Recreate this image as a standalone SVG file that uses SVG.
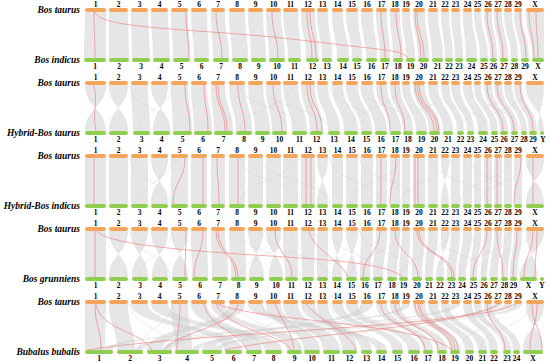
<svg xmlns="http://www.w3.org/2000/svg" width="550" height="363" viewBox="0 0 550 363">
<style>
.o{fill:#f5a45c}
.g{fill:#8fce4e}
.rb path{fill:#cdcdcd;fill-opacity:.5}
.bg path{fill:none;stroke:#cfcfcf;stroke-opacity:.55;stroke-width:.7}
.rl path{fill:none;stroke:#ee7070;stroke-opacity:.75;stroke-width:.75}
.sp{font-family:"Liberation Serif",serif;font-weight:bold;font-style:italic;font-size:9.5px;text-anchor:end;fill:#000}
.n{font-family:"Liberation Serif",serif;font-weight:bold;font-size:7.5px;text-anchor:middle;fill:#000}
</style>
<defs>
<g id="noise" class="bg">
<path d="M130 12C130 35 170 35 170 58"/>
<path d="M172 12C172 35 140 35 140 58"/>
<path d="M240 12C240 35 300 35 300 58"/>
<path d="M292 12C292 35 240 35 240 58"/>
<path d="M262 12C262 35 330 35 330 58"/>
<path d="M330 12C330 35 380 35 380 58"/>
<path d="M400 12C400 35 350 35 350 58"/>
<path d="M360 12C360 35 420 35 420 58"/>
<path d="M450 12C450 35 400 35 400 58"/>
<path d="M470 12C470 35 520 35 520 58"/>
<path d="M510 12C510 35 460 35 460 58"/>
<path d="M430 12C430 35 490 35 490 58"/>
<path d="M530 12C530 35 480 35 480 58"/>
</g>
</defs>
<rect width="550" height="363" fill="#fff"/>
<g id="connectors">
<g id="row1-links" transform="translate(0,0)">
<g class="rb">
<path d="M85 12C85 35 84 35 84 58H106C106 35 106 35 106 12Z"/>
<path d="M109 12C109 35 109 35 109 58H129C129 35 128 35 128 12Z"/>
<path d="M131 12C131 35 132 35 132 58H150C150 35 148 35 148 12Z"/>
<path d="M151 12C151 35 153 35 153 58H170C170 35 168 35 168 12Z"/>
<path d="M171 12C171 35 173 35 173 58H190C190 35 188 35 188 12Z"/>
<path d="M191 12C191 35 194 35 194 58H209C209 35 207 35 207 12Z"/>
<path d="M211 12C211 35 213 35 213 58H229C229 35 225 35 225 12Z"/>
<path d="M229 12C229 35 232 35 232 58H248C248 35 245 35 245 12Z"/>
<path d="M248 12C248 35 251 35 251 58H266C266 35 263 35 263 12Z"/>
<path d="M266 12C266 35 269 35 269 58H285C285 35 281 35 281 12Z"/>
<path d="M283 12C283 35 288 35 288 58H301C301 35 298 35 298 12Z"/>
<path d="M301 12C301 35 306 35 306 58H319C319 35 315 35 315 12Z"/>
<path d="M317 12C317 35 322 35 322 58H332C332 35 328 35 328 12Z"/>
<path d="M332 12C332 35 337 35 337 58H349C349 35 343 35 343 12Z"/>
<path d="M346 12C346 35 352 35 352 58H362C362 35 358 35 358 12Z"/>
<path d="M361 12C361 35 366 35 366 58H377C377 35 373 35 373 12Z"/>
<path d="M376 12C376 35 380 35 380 58H390C390 35 387 35 387 12Z"/>
<path d="M390 12C390 35 393 35 393 58H403C403 35 400 35 400 12Z"/>
<path d="M402 12C402 35 406 35 406 58H415C415 35 410 35 410 12Z"/>
<path d="M413 12C413 35 418 35 418 58H429C429 35 425 35 425 12Z"/>
<path d="M428 12C428 35 432 35 432 58H443C443 35 438 35 438 12Z"/>
<path d="M441 12C441 35 445 35 445 58H453C453 35 449 35 449 12Z"/>
<path d="M451 12C451 35 455 35 455 58H463C463 35 460 35 460 12Z"/>
<path d="M463 12C463 35 466 35 466 58H477C477 35 472 35 472 12Z"/>
<path d="M474 12C474 35 480 35 480 58H488C488 35 481 35 481 12Z"/>
<path d="M484 12C484 35 490 35 490 58H497C497 35 492 35 492 12Z"/>
<path d="M494 12C494 35 500 35 500 58H508C508 35 502 35 502 12Z"/>
<path d="M504 12C504 35 511 35 511 58H518C518 35 512 35 512 12Z"/>
<path d="M514 12C514 35 521 35 521 58H529C529 35 522 35 522 12Z"/>
<path d="M526 12C526 35 532 35 532 58H544C544 35 544 35 544 12Z"/>
</g>
<g class="rl">
<path d="M94 12C94 35 95 35 95 58"/>
<path d="M95 12C100 30 200 28 300 40S400 50 408 58"/>
<path d="M186 12C186 35 189 35 189 58"/>
<path d="M216 12C216 35 222 35 222 58"/>
<path d="M272 12C272 35 278 35 278 58"/>
<path d="M307 12C307 35 312 35 312 58"/>
<path d="M310 12C310 35 316 35 316 58"/>
<path d="M381 12C381 35 385 35 385 58"/>
<path d="M396 12C396 35 401 35 401 58"/>
<path d="M415 12C415 35 421 35 421 58"/>
<path d="M417 12C417 35 424 35 424 58"/>
<path d="M487 12C487 35 493 35 493 58"/>
<path d="M497 12C497 35 503 35 503 58"/>
<path d="M520 12C520 35 526 35 526 58"/>
<path d="M529 12C529 35 534 35 534 58"/>
<path d="M536 12C536 35 538 35 538 58"/>
</g>
</g>
<g id="row2-links" transform="translate(0,73)">
<use href="#noise"/>
<g class="rb">
<path d="M85 12C85 35 106 35 106 58H85C85 35 106 35 106 12Z"/>
<path d="M109 12C109 35 128 35 128 58H109C109 35 128 35 128 12Z"/>
<path d="M131 12C131 35 133 35 133 58H150C150 35 148 35 148 12Z"/>
<path d="M151 12C151 35 170 35 170 58H153C153 35 168 35 168 12Z"/>
<path d="M171 12C171 35 173 35 173 58H192C192 35 188 35 188 12Z"/>
<path d="M191 12C191 35 194 35 194 58H212C212 35 207 35 207 12Z"/>
<path d="M211 12C211 35 214 35 214 58H233C233 35 225 35 225 12Z"/>
<path d="M229 12C229 35 236 35 236 58H252C252 35 245 35 245 12Z"/>
<path d="M248 12C248 35 255 35 255 58H270C270 35 263 35 263 12Z"/>
<path d="M266 12C266 35 272 35 272 58H287C287 35 281 35 281 12Z"/>
<path d="M283 12C283 35 292 35 292 58H307C307 35 298 35 298 12Z"/>
<path d="M301 12C301 35 310 35 310 58H323C323 35 315 35 315 12Z"/>
<path d="M317 12C317 35 328 35 328 58H340C340 35 328 35 328 12Z"/>
<path d="M332 12C332 35 344 35 344 58H358C358 35 343 35 343 12Z"/>
<path d="M346 12C346 35 361 35 361 58H372C372 35 358 35 358 12Z"/>
<path d="M361 12C361 35 375 35 375 58H387C387 35 373 35 373 12Z"/>
<path d="M376 12C376 35 390 35 390 58H401C401 35 387 35 387 12Z"/>
<path d="M390 12C390 35 403 35 403 58H413C413 35 400 35 400 12Z"/>
<path d="M402 12C402 35 416 35 416 58H427C427 35 410 35 410 12Z"/>
<path d="M413 12C413 35 429 35 429 58H440C440 35 425 35 425 12Z"/>
<path d="M428 12C428 35 443 35 443 58H453C453 35 438 35 438 12Z"/>
<path d="M441 12C441 35 457 35 457 58H464C464 35 449 35 449 12Z"/>
<path d="M451 12C451 35 467 35 467 58H474C474 35 460 35 460 12Z"/>
<path d="M463 12C463 35 478 35 478 58H488C488 35 472 35 472 12Z"/>
<path d="M474 12C474 35 491 35 491 58H498C498 35 481 35 481 12Z"/>
<path d="M484 12C484 35 500 35 500 58H508C508 35 492 35 492 12Z"/>
<path d="M494 12C494 35 511 35 511 58H518C518 35 502 35 502 12Z"/>
<path d="M504 12C504 35 521 35 521 58H527C527 35 512 35 512 12Z"/>
<path d="M514 12C514 35 529 35 529 58H537C537 35 522 35 522 12Z"/>
<path d="M526 12C526 35 544 35 544 58H538C538 35 544 35 544 12Z"/>
</g>
<g class="rl">
<path d="M94 12C98 30 92 40 96 58"/>
<path d="M185 12C185 35 190 35 190 58"/>
<path d="M204 12C204 35 208 35 208 58"/>
<path d="M216 12C216 35 225 35 225 58"/>
<path d="M218 12C218 35 227 35 227 58"/>
<path d="M238 12C238 35 245 35 245 58"/>
<path d="M273 12C273 35 282 35 282 58"/>
<path d="M307 12C307 35 317 35 317 58"/>
<path d="M310 12C310 35 322 35 322 58"/>
<path d="M381 12C381 35 390 35 390 58"/>
<path d="M395 12C395 35 405 35 405 58"/>
<path d="M415 12C415 35 434 35 434 58"/>
<path d="M417 12C417 35 437 35 437 58"/>
<path d="M419 12C419 35 439 35 439 58"/>
<path d="M487 12C487 35 503 35 503 58"/>
<path d="M497 12C497 35 514 35 514 58"/>
<path d="M520 12C520 35 533 35 533 58"/>
</g>
</g>
<g id="row3-links" transform="translate(0,146)">
<use href="#noise"/>
<g class="rb">
<path d="M85 12C85 35 85 35 85 58H106C106 35 106 35 106 12Z"/>
<path d="M109 12C109 35 109 35 109 58H128C128 35 128 35 128 12Z"/>
<path d="M131 12C131 35 131 35 131 58H148C148 35 148 35 148 12Z"/>
<path d="M151 12C151 35 168 35 168 58H151C151 35 168 35 168 12Z"/>
<path d="M171 12C171 35 171 35 171 58H188C188 35 188 35 188 12Z"/>
<path d="M191 12C191 35 191 35 191 58H207C207 35 207 35 207 12Z"/>
<path d="M211 12C211 35 211 35 211 58H225C225 35 225 35 225 12Z"/>
<path d="M229 12C229 35 229 35 229 58H245C245 35 245 35 245 12Z"/>
<path d="M248 12C248 35 248 35 248 58H263C263 35 263 35 263 12Z"/>
<path d="M266 12C266 35 266 35 266 58H281C281 35 281 35 281 12Z"/>
<path d="M283 12C283 35 283 35 283 58H298C298 35 298 35 298 12Z"/>
<path d="M301 12C301 35 301 35 301 58H315C315 35 315 35 315 12Z"/>
<path d="M317 12C317 35 328 35 328 58H317C317 35 328 35 328 12Z"/>
<path d="M332 12C332 35 332 35 332 58H343C343 35 343 35 343 12Z"/>
<path d="M346 12C346 35 346 35 346 58H358C358 35 358 35 358 12Z"/>
<path d="M361 12C361 35 361 35 361 58H373C373 35 373 35 373 12Z"/>
<path d="M376 12C376 35 376 35 376 58H387C387 35 387 35 387 12Z"/>
<path d="M390 12C390 35 390 35 390 58H400C400 35 400 35 400 12Z"/>
<path d="M402 12C402 35 402 35 402 58H410C410 35 410 35 410 12Z"/>
<path d="M413 12C413 35 413 35 413 58H425C425 35 425 35 425 12Z"/>
<path d="M428 12C428 35 428 35 428 58H438C438 35 438 35 438 12Z"/>
<path d="M441 12C441 35 449 35 449 58H441C441 35 449 35 449 12Z"/>
<path d="M451 12C451 35 451 35 451 58H460C460 35 460 35 460 12Z"/>
<path d="M463 12C463 35 463 35 463 58H472C472 35 472 35 472 12Z"/>
<path d="M474 12C474 35 474 35 474 58H481C481 35 481 35 481 12Z"/>
<path d="M484 12C484 35 484 35 484 58H492C492 35 492 35 492 12Z"/>
<path d="M494 12C494 35 494 35 494 58H502C502 35 502 35 502 12Z"/>
<path d="M504 12C504 35 504 35 504 58H512C512 35 512 35 512 12Z"/>
<path d="M514 12C514 35 514 35 514 58H522C522 35 522 35 522 12Z"/>
<path d="M526 12C526 35 544 35 544 58H526C526 35 544 35 544 12Z"/>
</g>
<g class="rl">
<path d="M94 12C94 35 94 35 94 58"/>
<path d="M185 12C185 35 173 35 173 58"/>
<path d="M203 12C203 35 203 35 203 58"/>
<path d="M217 12C217 35 219 35 219 58"/>
<path d="M238 12C238 35 238 35 238 58"/>
<path d="M306 12C306 35 306 35 306 58"/>
<path d="M311 12C311 35 311 35 311 58"/>
<path d="M381 12C381 35 381 35 381 58"/>
<path d="M396 12C396 35 390 35 390 58"/>
<path d="M415 12C415 35 415 35 415 58"/>
<path d="M418 12C418 35 418 35 418 58"/>
<path d="M487 12C487 35 487 35 487 58"/>
<path d="M497 12C497 35 497 35 497 58"/>
<path d="M521 12C521 35 514 35 514 58"/>
<path d="M533 12C533 35 533 35 533 58"/>
</g>
</g>
<g id="row4-links" transform="translate(0,219)">
<use href="#noise"/>
<g class="rb">
<path d="M85 12C85 35 85 35 85 58H106C106 35 106 35 106 12Z"/>
<path d="M109 12C109 35 128 35 128 58H109C109 35 128 35 128 12Z"/>
<path d="M131 12C131 35 148 35 148 58H132C132 35 148 35 148 12Z"/>
<path d="M151 12C151 35 168 35 168 58H152C152 35 168 35 168 12Z"/>
<path d="M171 12C171 35 188 35 188 58H172C172 35 188 35 188 12Z"/>
<path d="M191 12C191 35 192 35 192 58H208C208 35 207 35 207 12Z"/>
<path d="M211 12C211 35 212 35 212 58H228C228 35 225 35 225 12Z"/>
<path d="M229 12C229 35 231 35 231 58H246C246 35 245 35 245 12Z"/>
<path d="M248 12C248 35 264 35 264 58H249C249 35 263 35 263 12Z"/>
<path d="M266 12C266 35 283 35 283 58H269C269 35 281 35 281 12Z"/>
<path d="M283 12C283 35 285 35 285 58H298C298 35 298 35 298 12Z"/>
<path d="M301 12C301 35 302 35 302 58H314C314 35 315 35 315 12Z"/>
<path d="M317 12C317 35 317 35 317 58H328C328 35 328 35 328 12Z"/>
<path d="M332 12C332 35 342 35 342 58H332C332 35 343 35 343 12Z"/>
<path d="M346 12C346 35 357 35 357 58H346C346 35 358 35 358 12Z"/>
<path d="M361 12C361 35 360 35 360 58H370C370 35 373 35 373 12Z"/>
<path d="M376 12C376 35 373 35 373 58H383C383 35 387 35 387 12Z"/>
<path d="M390 12C390 35 387 35 387 58H397C397 35 400 35 400 12Z"/>
<path d="M402 12C402 35 399 35 399 58H408C408 35 410 35 410 12Z"/>
<path d="M413 12C413 35 412 35 412 58H422C422 35 425 35 425 12Z"/>
<path d="M428 12C428 35 425 35 425 58H433C433 35 438 35 438 12Z"/>
<path d="M441 12C441 35 444 35 444 58H436C436 35 449 35 449 12Z"/>
<path d="M451 12C451 35 447 35 447 58H456C456 35 460 35 460 12Z"/>
<path d="M463 12C463 35 458 35 458 58H466C466 35 472 35 472 12Z"/>
<path d="M474 12C474 35 470 35 470 58H477C477 35 481 35 481 12Z"/>
<path d="M484 12C484 35 481 35 481 58H487C487 35 492 35 492 12Z"/>
<path d="M494 12C494 35 490 35 490 58H498C498 35 502 35 502 12Z"/>
<path d="M504 12C504 35 501 35 501 58H508C508 35 512 35 512 12Z"/>
<path d="M514 12C514 35 510 35 510 58H517C517 35 522 35 522 12Z"/>
<path d="M526 12C526 35 537 35 537 58H520C520 35 544 35 544 12Z"/>
</g>
<g class="rl">
<path d="M95 12C95 35 95 35 95 58"/>
<path d="M97 12C110 30 250 35 315 40S395 52 403 58"/>
<path d="M309 12C312 30 340 40 348 58"/>
<path d="M186 12C186 35 185 35 185 58"/>
<path d="M203 12C203 35 194 35 194 58"/>
<path d="M216 12C216 35 236 35 236 58"/>
<path d="M218 12C218 35 238 35 238 58"/>
<path d="M275 12C275 35 292 35 292 58"/>
<path d="M380 12C380 35 363 35 363 58"/>
<path d="M395 12C395 35 418 35 418 58"/>
<path d="M417 12C417 35 452 35 452 58"/>
<path d="M419 12C419 35 454 35 454 58"/>
<path d="M487 12C487 35 473 35 473 58"/>
<path d="M497 12C497 35 503 35 503 58"/>
<path d="M517 12C517 35 513 35 513 58"/>
<path d="M533 12C533 35 524 35 524 58"/>
<path d="M537 12C537 35 535 35 535 58"/>
</g>
</g>
<g id="row5-links" transform="translate(0,292)">
<use href="#noise"/>
<g class="rb">
<path d="M85 12C85 35 85 35 85 58H105C105 35 106 35 106 12Z"/>
<path d="M494 12C494 35 105 35 105 58H113C113 35 502 35 502 12Z"/>
<path d="M109 12C109 35 117 35 117 58H135C135 35 128 35 128 12Z"/>
<path d="M451 12C451 35 135 35 135 58H143C143 35 460 35 460 12Z"/>
<path d="M229 12C229 35 147 35 147 58H162C162 35 245 35 245 12Z"/>
<path d="M402 12C402 35 162 35 162 58H172C172 35 410 35 410 12Z"/>
<path d="M171 12C171 35 175 35 175 58H192C192 35 188 35 188 12Z"/>
<path d="M504 12C504 35 192 35 192 58H199C199 35 512 35 512 12Z"/>
<path d="M361 12C361 35 202 35 202 58H214C214 35 373 35 373 12Z"/>
<path d="M514 12C514 35 214 35 214 58H222C222 35 522 35 522 12Z"/>
<path d="M131 12C131 35 225 35 225 58H242C242 35 148 35 148 12Z"/>
<path d="M191 12C191 35 246 35 246 58H262C262 35 207 35 207 12Z"/>
<path d="M151 12C151 35 265 35 265 58H282C282 35 168 35 168 12Z"/>
<path d="M211 12C211 35 287 35 287 58H302C302 35 225 35 225 12Z"/>
<path d="M266 12C266 35 304 35 304 58H320C320 35 281 35 281 12Z"/>
<path d="M283 12C283 35 323 35 323 58H340C340 35 298 35 298 12Z"/>
<path d="M317 12C317 35 342 35 342 58H357C357 35 328 35 328 12Z"/>
<path d="M301 12C301 35 361 35 361 58H372C372 35 315 35 315 12Z"/>
<path d="M248 12C248 35 376 35 376 58H387C387 35 263 35 263 12Z"/>
<path d="M332 12C332 35 392 35 392 58H403C403 35 343 35 343 12Z"/>
<path d="M346 12C346 35 408 35 408 58H420C420 35 358 35 358 12Z"/>
<path d="M376 12C376 35 423 35 423 58H433C433 35 387 35 387 12Z"/>
<path d="M390 12C390 35 437 35 437 58H447C447 35 400 35 400 12Z"/>
<path d="M413 12C413 35 450 35 450 58H460C460 35 425 35 425 12Z"/>
<path d="M428 12C428 35 465 35 465 58H474C474 35 438 35 438 12Z"/>
<path d="M441 12C441 35 478 35 478 58H487C487 35 449 35 449 12Z"/>
<path d="M463 12C463 35 490 35 490 58H498C498 35 472 35 472 12Z"/>
<path d="M474 12C474 35 503 35 503 58H511C511 35 481 35 481 12Z"/>
<path d="M484 12C484 35 513 35 513 58H520C520 35 492 35 492 12Z"/>
<path d="M526 12C526 35 543 35 543 58H523C523 35 544 35 544 12Z"/>
</g>
<g class="rl">
<path d="M95 12C95 35 101 35 101 58"/>
<path d="M96 12C100 38 140 38 152 58"/>
<path d="M180 12C180 35 177 35 177 58"/>
<path d="M238 12C235 35 175 40 165 58"/>
<path d="M204 12C208 35 240 40 247 58"/>
<path d="M216 12C230 40 280 40 291 58"/>
<path d="M275 12C285 35 292 40 294 58"/>
<path d="M218 12C260 30 420 30 452 58"/>
<path d="M516 12C470 35 200 40 87 58"/>
<path d="M499 12C460 35 300 42 224 58"/>
<path d="M306 12C320 30 350 40 356 58"/>
<path d="M381 12C381 35 425 35 425 58"/>
<path d="M395 12C395 35 438 35 438 58"/>
<path d="M415 12C415 35 452 35 452 58"/>
<path d="M418 12C418 35 455 35 455 58"/>
<path d="M420 12C420 35 458 35 458 58"/>
<path d="M487 12C487 35 505 35 505 58"/>
<path d="M532 12C532 35 542 35 542 58"/>
<path d="M537 12C537 35 530 35 530 58"/>
</g>
</g>
</g>
<g id="tracks">
<g id="r1-bos-taurus">
<text class="sp" x="80" y="13">Bos taurus</text>
<g class="o"><rect x="85" y="8" width="21" height="4" rx="2"/><rect x="109" y="8" width="19" height="4" rx="2"/><rect x="131" y="8" width="17" height="4" rx="2"/><rect x="151" y="8" width="17" height="4" rx="2"/><rect x="171" y="8" width="17" height="4" rx="2"/><rect x="191" y="8" width="16" height="4" rx="2"/><rect x="211" y="8" width="14" height="4" rx="2"/><rect x="229" y="8" width="16" height="4" rx="2"/><rect x="248" y="8" width="15" height="4" rx="2"/><rect x="266" y="8" width="15" height="4" rx="2"/><rect x="283" y="8" width="15" height="4" rx="2"/><rect x="301" y="8" width="14" height="4" rx="2"/><rect x="317" y="8" width="11" height="4" rx="2"/><rect x="332" y="8" width="11" height="4" rx="2"/><rect x="346" y="8" width="12" height="4" rx="2"/><rect x="361" y="8" width="12" height="4" rx="2"/><rect x="376" y="8" width="11" height="4" rx="2"/><rect x="390" y="8" width="10" height="4" rx="2"/><rect x="402" y="8" width="8" height="4" rx="2"/><rect x="413" y="8" width="12" height="4" rx="2"/><rect x="428" y="8" width="10" height="4" rx="2"/><rect x="441" y="8" width="8" height="4" rx="2"/><rect x="451" y="8" width="9" height="4" rx="2"/><rect x="463" y="8" width="9" height="4" rx="2"/><rect x="474" y="8" width="7" height="4" rx="2"/><rect x="484" y="8" width="8" height="4" rx="2"/><rect x="494" y="8" width="8" height="4" rx="2"/><rect x="504" y="8" width="8" height="4" rx="2"/><rect x="514" y="8" width="8" height="4" rx="2"/><rect x="526" y="8" width="18" height="4" rx="2"/></g>
<g class="n"><text x="95.5" y="7">1</text><text x="118.5" y="7">2</text><text x="139.5" y="7">3</text><text x="159.5" y="7">4</text><text x="179.5" y="7">5</text><text x="199" y="7">6</text><text x="218" y="7">7</text><text x="237" y="7">8</text><text x="255.5" y="7">9</text><text x="273.5" y="7">10</text><text x="290.5" y="7">11</text><text x="308" y="7">12</text><text x="322.5" y="7">13</text><text x="337.5" y="7">14</text><text x="352" y="7">15</text><text x="367" y="7">16</text><text x="381.5" y="7">17</text><text x="395" y="7">18</text><text x="406" y="7">19</text><text x="419" y="7">20</text><text x="433" y="7">21</text><text x="445" y="7">22</text><text x="455.5" y="7">23</text><text x="467.5" y="7">24</text><text x="477.5" y="7">25</text><text x="488" y="7">26</text><text x="498" y="7">27</text><text x="508" y="7">28</text><text x="518" y="7">29</text><text x="535" y="7">X</text></g>
</g>
<use id="r2-bos-taurus" href="#r1-bos-taurus" transform="translate(0,73)"/>
<use id="r3-bos-taurus" href="#r1-bos-taurus" transform="translate(0,146)"/>
<use id="r4-bos-taurus" href="#r1-bos-taurus" transform="translate(0,219)"/>
<use id="r5-bos-taurus" href="#r1-bos-taurus" transform="translate(0,292)"/>
<g id="r1-bos-indicus">
<text class="sp" x="80" y="63">Bos indicus</text>
<g class="g"><rect x="84" y="58" width="22" height="4" rx="2"/><rect x="109" y="58" width="20" height="4" rx="2"/><rect x="132" y="58" width="18" height="4" rx="2"/><rect x="153" y="58" width="17" height="4" rx="2"/><rect x="173" y="58" width="17" height="4" rx="2"/><rect x="194" y="58" width="15" height="4" rx="2"/><rect x="213" y="58" width="16" height="4" rx="2"/><rect x="232" y="58" width="16" height="4" rx="2"/><rect x="251" y="58" width="15" height="4" rx="2"/><rect x="269" y="58" width="16" height="4" rx="2"/><rect x="288" y="58" width="13" height="4" rx="2"/><rect x="306" y="58" width="13" height="4" rx="2"/><rect x="322" y="58" width="10" height="4" rx="2"/><rect x="337" y="58" width="12" height="4" rx="2"/><rect x="352" y="58" width="10" height="4" rx="2"/><rect x="366" y="58" width="11" height="4" rx="2"/><rect x="380" y="58" width="10" height="4" rx="2"/><rect x="393" y="58" width="10" height="4" rx="2"/><rect x="406" y="58" width="9" height="4" rx="2"/><rect x="418" y="58" width="11" height="4" rx="2"/><rect x="432" y="58" width="11" height="4" rx="2"/><rect x="445" y="58" width="8" height="4" rx="2"/><rect x="455" y="58" width="8" height="4" rx="2"/><rect x="466" y="58" width="11" height="4" rx="2"/><rect x="480" y="58" width="8" height="4" rx="2"/><rect x="490" y="58" width="7" height="4" rx="2"/><rect x="500" y="58" width="8" height="4" rx="2"/><rect x="511" y="58" width="7" height="4" rx="2"/><rect x="521" y="58" width="8" height="4" rx="2"/><rect x="532" y="58" width="12" height="4" rx="2"/></g>
<g class="n"><text x="95" y="69">1</text><text x="119" y="69">2</text><text x="141" y="69">3</text><text x="161.5" y="69">4</text><text x="181.5" y="69">5</text><text x="201.5" y="69">6</text><text x="221" y="69">7</text><text x="240" y="69">8</text><text x="258.5" y="69">9</text><text x="277" y="69">10</text><text x="294.5" y="69">11</text><text x="312.5" y="69">12</text><text x="327" y="69">13</text><text x="343" y="69">14</text><text x="357" y="69">15</text><text x="371.5" y="69">16</text><text x="385" y="69">17</text><text x="398" y="69">18</text><text x="410.5" y="69">19</text><text x="423.5" y="69">20</text><text x="437.5" y="69">21</text><text x="449" y="69">22</text><text x="459" y="69">23</text><text x="471.5" y="69">24</text><text x="484" y="69">25</text><text x="493.5" y="69">26</text><text x="504" y="69">27</text><text x="514.5" y="69">28</text><text x="525" y="69">29</text><text x="538" y="69">X</text></g>
</g>
<g id="r2-hybrid-bos-taurus" transform="translate(0,73)">
<text class="sp" x="80" y="63">Hybrid-Bos taurus</text>
<g class="g"><rect x="85" y="58" width="21" height="4" rx="2"/><rect x="109" y="58" width="19" height="4" rx="2"/><rect x="133" y="58" width="17" height="4" rx="2"/><rect x="153" y="58" width="17" height="4" rx="2"/><rect x="173" y="58" width="19" height="4" rx="2"/><rect x="194" y="58" width="18" height="4" rx="2"/><rect x="214" y="58" width="19" height="4" rx="2"/><rect x="236" y="58" width="16" height="4" rx="2"/><rect x="255" y="58" width="15" height="4" rx="2"/><rect x="272" y="58" width="15" height="4" rx="2"/><rect x="292" y="58" width="15" height="4" rx="2"/><rect x="310" y="58" width="13" height="4" rx="2"/><rect x="328" y="58" width="12" height="4" rx="2"/><rect x="344" y="58" width="14" height="4" rx="2"/><rect x="361" y="58" width="11" height="4" rx="2"/><rect x="375" y="58" width="12" height="4" rx="2"/><rect x="390" y="58" width="11" height="4" rx="2"/><rect x="403" y="58" width="10" height="4" rx="2"/><rect x="416" y="58" width="11" height="4" rx="2"/><rect x="429" y="58" width="11" height="4" rx="2"/><rect x="443" y="58" width="10" height="4" rx="2"/><rect x="457" y="58" width="7" height="4" rx="2"/><rect x="467" y="58" width="7" height="4" rx="2"/><rect x="478" y="58" width="10" height="4" rx="2"/><rect x="491" y="58" width="7" height="4" rx="2"/><rect x="500" y="58" width="8" height="4" rx="2"/><rect x="511" y="58" width="7" height="4" rx="2"/><rect x="521" y="58" width="6" height="4" rx="2"/><rect x="529" y="58" width="8" height="4" rx="2"/><rect x="540" y="58" width="4" height="4" rx="2"/></g>
<g class="n"><text x="95.5" y="69">1</text><text x="118.5" y="69">2</text><text x="141.5" y="69">3</text><text x="161.5" y="69">4</text><text x="182.5" y="69">5</text><text x="203" y="69">6</text><text x="223.5" y="69">7</text><text x="244" y="69">8</text><text x="262.5" y="69">9</text><text x="279.5" y="69">10</text><text x="299.5" y="69">11</text><text x="316.5" y="69">12</text><text x="334" y="69">13</text><text x="351" y="69">14</text><text x="366.5" y="69">15</text><text x="381" y="69">16</text><text x="395.5" y="69">17</text><text x="408" y="69">18</text><text x="421.5" y="69">19</text><text x="434.5" y="69">20</text><text x="448" y="69">21</text><text x="460.5" y="69">22</text><text x="470.5" y="69">23</text><text x="483" y="69">24</text><text x="494.5" y="69">25</text><text x="504" y="69">26</text><text x="514.5" y="69">27</text><text x="524" y="69">28</text><text x="533" y="69">29</text><text x="543" y="69">Y</text></g>
</g>
<g id="r3-hybrid-bos-indicus" transform="translate(0,146)">
<text class="sp" x="80" y="63">Hybrid-Bos indicus</text>
<g class="g"><rect x="85" y="58" width="21" height="4" rx="2"/><rect x="109" y="58" width="19" height="4" rx="2"/><rect x="131" y="58" width="17" height="4" rx="2"/><rect x="151" y="58" width="17" height="4" rx="2"/><rect x="171" y="58" width="17" height="4" rx="2"/><rect x="191" y="58" width="16" height="4" rx="2"/><rect x="211" y="58" width="14" height="4" rx="2"/><rect x="229" y="58" width="16" height="4" rx="2"/><rect x="248" y="58" width="15" height="4" rx="2"/><rect x="266" y="58" width="15" height="4" rx="2"/><rect x="283" y="58" width="15" height="4" rx="2"/><rect x="301" y="58" width="14" height="4" rx="2"/><rect x="317" y="58" width="11" height="4" rx="2"/><rect x="332" y="58" width="11" height="4" rx="2"/><rect x="346" y="58" width="12" height="4" rx="2"/><rect x="361" y="58" width="12" height="4" rx="2"/><rect x="376" y="58" width="11" height="4" rx="2"/><rect x="390" y="58" width="10" height="4" rx="2"/><rect x="402" y="58" width="8" height="4" rx="2"/><rect x="413" y="58" width="12" height="4" rx="2"/><rect x="428" y="58" width="10" height="4" rx="2"/><rect x="441" y="58" width="8" height="4" rx="2"/><rect x="451" y="58" width="9" height="4" rx="2"/><rect x="463" y="58" width="9" height="4" rx="2"/><rect x="474" y="58" width="7" height="4" rx="2"/><rect x="484" y="58" width="8" height="4" rx="2"/><rect x="494" y="58" width="8" height="4" rx="2"/><rect x="504" y="58" width="8" height="4" rx="2"/><rect x="514" y="58" width="8" height="4" rx="2"/><rect x="526" y="58" width="18" height="4" rx="2"/></g>
<g class="n"><text x="95.5" y="69">1</text><text x="118.5" y="69">2</text><text x="139.5" y="69">3</text><text x="159.5" y="69">4</text><text x="179.5" y="69">5</text><text x="199" y="69">6</text><text x="218" y="69">7</text><text x="237" y="69">8</text><text x="255.5" y="69">9</text><text x="273.5" y="69">10</text><text x="290.5" y="69">11</text><text x="308" y="69">12</text><text x="322.5" y="69">13</text><text x="337.5" y="69">14</text><text x="352" y="69">15</text><text x="367" y="69">16</text><text x="381.5" y="69">17</text><text x="395" y="69">18</text><text x="406" y="69">19</text><text x="419" y="69">20</text><text x="433" y="69">21</text><text x="445" y="69">22</text><text x="455.5" y="69">23</text><text x="467.5" y="69">24</text><text x="477.5" y="69">25</text><text x="488" y="69">26</text><text x="498" y="69">27</text><text x="508" y="69">28</text><text x="518" y="69">29</text><text x="535" y="69">X</text></g>
</g>
<g id="r4-bos-grunniens" transform="translate(0,219)">
<text class="sp" x="80" y="63">Bos grunniens</text>
<g class="g"><rect x="85" y="58" width="21" height="4" rx="2"/><rect x="109" y="58" width="19" height="4" rx="2"/><rect x="132" y="58" width="16" height="4" rx="2"/><rect x="152" y="58" width="16" height="4" rx="2"/><rect x="172" y="58" width="16" height="4" rx="2"/><rect x="192" y="58" width="16" height="4" rx="2"/><rect x="212" y="58" width="16" height="4" rx="2"/><rect x="231" y="58" width="15" height="4" rx="2"/><rect x="249" y="58" width="15" height="4" rx="2"/><rect x="269" y="58" width="14" height="4" rx="2"/><rect x="285" y="58" width="13" height="4" rx="2"/><rect x="302" y="58" width="12" height="4" rx="2"/><rect x="317" y="58" width="11" height="4" rx="2"/><rect x="332" y="58" width="10" height="4" rx="2"/><rect x="346" y="58" width="11" height="4" rx="2"/><rect x="360" y="58" width="10" height="4" rx="2"/><rect x="373" y="58" width="10" height="4" rx="2"/><rect x="387" y="58" width="10" height="4" rx="2"/><rect x="399" y="58" width="9" height="4" rx="2"/><rect x="412" y="58" width="10" height="4" rx="2"/><rect x="425" y="58" width="8" height="4" rx="2"/><rect x="436" y="58" width="8" height="4" rx="2"/><rect x="447" y="58" width="9" height="4" rx="2"/><rect x="458" y="58" width="8" height="4" rx="2"/><rect x="470" y="58" width="7" height="4" rx="2"/><rect x="481" y="58" width="6" height="4" rx="2"/><rect x="490" y="58" width="8" height="4" rx="2"/><rect x="501" y="58" width="7" height="4" rx="2"/><rect x="510" y="58" width="7" height="4" rx="2"/><rect x="520" y="58" width="17" height="4" rx="2"/><rect x="540" y="58" width="4" height="4" rx="2"/></g>
<g class="n"><text x="95.5" y="69">1</text><text x="118.5" y="69">2</text><text x="140" y="69">3</text><text x="160" y="69">4</text><text x="180" y="69">5</text><text x="200" y="69">6</text><text x="220" y="69">7</text><text x="238.5" y="69">8</text><text x="256.5" y="69">9</text><text x="276" y="69">10</text><text x="291.5" y="69">11</text><text x="308" y="69">12</text><text x="322.5" y="69">13</text><text x="337" y="69">14</text><text x="351.5" y="69">15</text><text x="365" y="69">16</text><text x="378" y="69">17</text><text x="392" y="69">18</text><text x="403.5" y="69">19</text><text x="417" y="69">20</text><text x="429" y="69">21</text><text x="440" y="69">22</text><text x="451.5" y="69">23</text><text x="462" y="69">24</text><text x="473.5" y="69">25</text><text x="484" y="69">26</text><text x="494" y="69">27</text><text x="504.5" y="69">28</text><text x="513.5" y="69">29</text><text x="528.5" y="69">X</text><text x="542" y="69">Y</text></g>
</g>
<g id="r5-bubalus-bubalis" transform="translate(0,292)">
<text class="sp" x="80" y="63">Bubalus bubalis</text>
<g class="g"><rect x="85" y="58" width="28" height="4" rx="2"/><rect x="117" y="58" width="26" height="4" rx="2"/><rect x="147" y="58" width="25" height="4" rx="2"/><rect x="175" y="58" width="24" height="4" rx="2"/><rect x="202" y="58" width="20" height="4" rx="2"/><rect x="225" y="58" width="17" height="4" rx="2"/><rect x="246" y="58" width="16" height="4" rx="2"/><rect x="265" y="58" width="17" height="4" rx="2"/><rect x="287" y="58" width="15" height="4" rx="2"/><rect x="304" y="58" width="16" height="4" rx="2"/><rect x="323" y="58" width="17" height="4" rx="2"/><rect x="342" y="58" width="15" height="4" rx="2"/><rect x="361" y="58" width="11" height="4" rx="2"/><rect x="376" y="58" width="11" height="4" rx="2"/><rect x="392" y="58" width="11" height="4" rx="2"/><rect x="408" y="58" width="12" height="4" rx="2"/><rect x="423" y="58" width="10" height="4" rx="2"/><rect x="437" y="58" width="10" height="4" rx="2"/><rect x="450" y="58" width="10" height="4" rx="2"/><rect x="465" y="58" width="9" height="4" rx="2"/><rect x="478" y="58" width="9" height="4" rx="2"/><rect x="490" y="58" width="8" height="4" rx="2"/><rect x="503" y="58" width="8" height="4" rx="2"/><rect x="513" y="58" width="7" height="4" rx="2"/><rect x="523" y="58" width="20" height="4" rx="2"/></g>
<g class="n"><text x="99" y="69">1</text><text x="130" y="69">2</text><text x="159.5" y="69">3</text><text x="187" y="69">4</text><text x="212" y="69">5</text><text x="233.5" y="69">6</text><text x="254" y="69">7</text><text x="273.5" y="69">8</text><text x="294.5" y="69">9</text><text x="312" y="69">10</text><text x="331.5" y="69">11</text><text x="349.5" y="69">12</text><text x="366.5" y="69">13</text><text x="381.5" y="69">14</text><text x="397.5" y="69">15</text><text x="414" y="69">16</text><text x="428" y="69">17</text><text x="442" y="69">18</text><text x="455" y="69">19</text><text x="469.5" y="69">20</text><text x="482.5" y="69">21</text><text x="494" y="69">22</text><text x="507" y="69">23</text><text x="516.5" y="69">24</text><text x="533" y="69">X</text></g>
</g>
</g>
</svg>
